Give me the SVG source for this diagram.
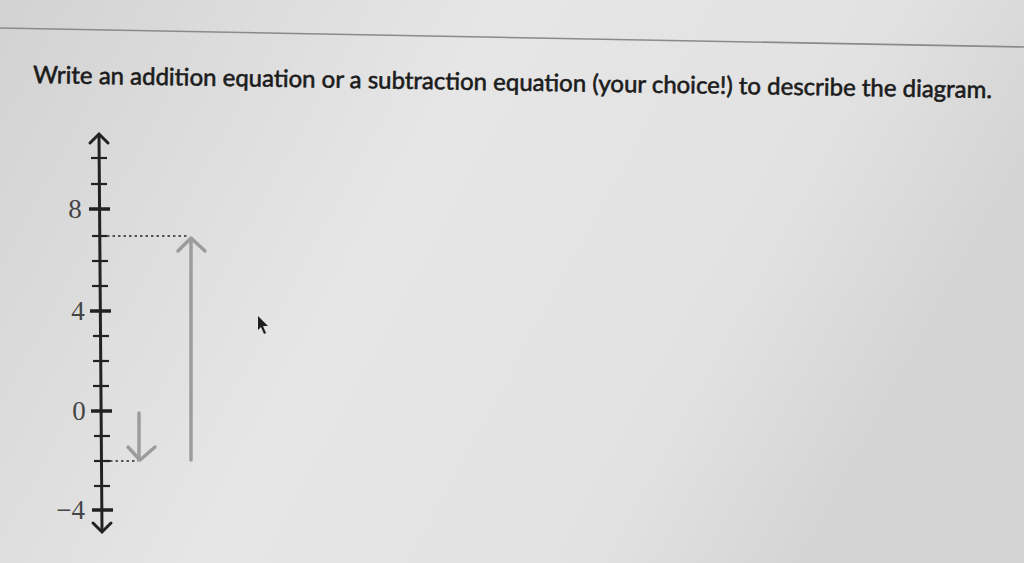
<svg xmlns="http://www.w3.org/2000/svg" width="1024" height="563" viewBox="0 0 1024 563">
<defs>
<linearGradient id="bg" x1="0" y1="0" x2="1" y2="0.3">
<stop offset="0" stop-color="#d2d2d2"/>
<stop offset="0.45" stop-color="#e6e6e6"/>
<stop offset="0.8" stop-color="#e2e2e2"/>
<stop offset="1" stop-color="#d4d4d4"/>
</linearGradient>
<style>
.axis{stroke:#222;stroke-width:3;fill:none;stroke-linecap:round}
.tick{stroke:#222;stroke-width:2.2}
.major{stroke:#222;stroke-width:3.5}
.num{font-family:"Liberation Serif","DejaVu Serif",serif;font-size:27px;fill:#444}
.gray{stroke:#9c9c9c;stroke-width:3.5;fill:none;stroke-linecap:round;stroke-linejoin:round}
.dot{stroke:#555;stroke-width:2.2;stroke-dasharray:2.5 3;fill:none}
.title{font-family:Lato,"Liberation Sans",sans-serif;font-size:24px;font-weight:normal;fill:#1c1c1c;stroke:#1c1c1c;stroke-width:0.6}
</style>
</defs>
<rect width="1024" height="563" fill="url(#bg)"/>
<line x1="0" y1="28" x2="1024" y2="47" stroke="#8a8a8a" stroke-width="1.6"/>
<g id="title">
<text class="title" x="33" y="83" textLength="959" lengthAdjust="spacingAndGlyphs" transform="rotate(0.9 33 83)">Write an addition equation or a subtraction equation (your choice!) to describe the diagram.</text>
</g>
<g id="numberline">
<line class="axis" x1="99" y1="135" x2="102" y2="530"/>
<polyline class="axis" points="90,143 99,134 108,143"/>
<polyline class="axis" points="93,523 102,532 111,523"/>
<line class="tick" x1="91" y1="158" x2="107" y2="158"/>
<line class="tick" x1="91" y1="184" x2="107" y2="184"/>
<line class="major" x1="89" y1="209" x2="110" y2="209"/>
<line class="tick" x1="92" y1="236" x2="108" y2="236"/>
<line class="tick" x1="92" y1="261" x2="108" y2="261"/>
<line class="tick" x1="92" y1="286" x2="108" y2="286"/>
<line class="major" x1="90" y1="311" x2="111" y2="311"/>
<line class="tick" x1="93" y1="336" x2="109" y2="336"/>
<line class="tick" x1="93" y1="361" x2="109" y2="361"/>
<line class="tick" x1="93" y1="386" x2="109" y2="386"/>
<line class="major" x1="91" y1="411" x2="112" y2="411"/>
<line class="tick" x1="94" y1="436" x2="110" y2="436"/>
<line class="tick" x1="94" y1="461" x2="110" y2="461"/>
<line class="tick" x1="94" y1="486" x2="110" y2="486"/>
<line class="major" x1="92" y1="510" x2="113" y2="510"/>
<text class="num" x="75" y="218" text-anchor="middle">8</text>
<text class="num" x="78" y="320" text-anchor="middle">4</text>
<text class="num" x="79" y="420" text-anchor="middle">0</text>
<text class="num" x="85" y="519" text-anchor="end">−4</text>
</g>
<g id="connectors">
<line class="dot" x1="107" y1="236" x2="189" y2="236"/>
<line class="dot" x1="110" y1="461" x2="138" y2="461"/>
<line class="gray" x1="191" y1="239" x2="191" y2="460"/>
<polyline class="gray" points="178,251 191,238 205,251"/>
<line class="gray" x1="139" y1="413" x2="139" y2="459"/>
<polyline class="gray" points="128,447 140,460 155,447"/>
</g>
<g id="cursor">
<polygon points="258,316 258,330 261,327 264,334 266,333 263,326 268,326" fill="#1e1e1e"/>
</g>
</svg>
